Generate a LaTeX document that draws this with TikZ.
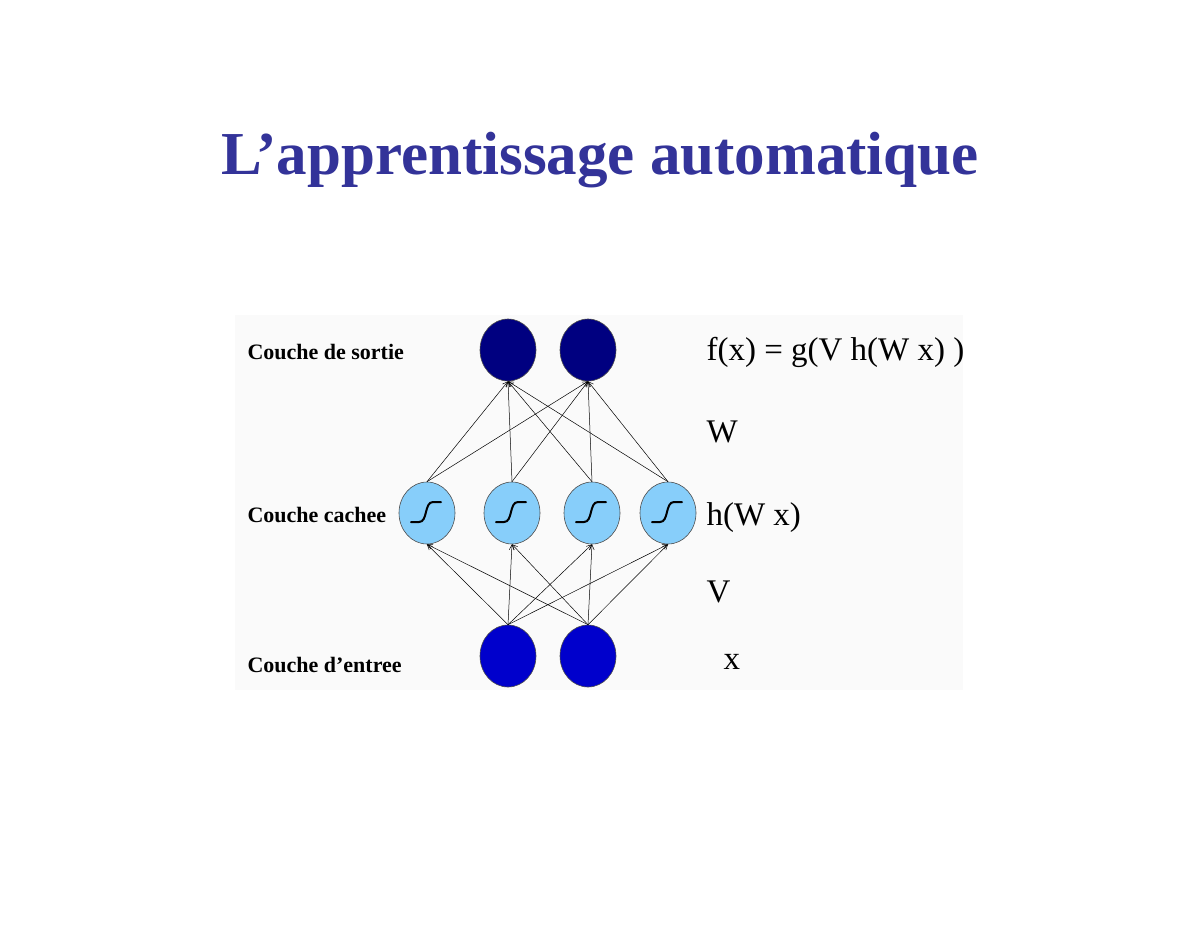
\documentclass[tikz,border=0pt]{standalone}
\usepackage{fontspec}
\setmainfont{Liberation Serif}
\usetikzlibrary{arrows.meta,shapes.geometric}
\definecolor{titlec}{HTML}{333399}
\definecolor{outc}{HTML}{000080}
\definecolor{hidc}{HTML}{87CEFA}
\definecolor{inc}{HTML}{0000CC}
\begin{document}
\begin{tikzpicture}[x=1pt,y=-1pt,
  neuron/.style={ellipse,draw=black!70,line width=0.6pt,minimum width=56pt,minimum height=62pt,inner sep=0},
  outn/.style={neuron,fill=outc},
  hidn/.style={neuron,fill=hidc},
  inn/.style={neuron,fill=inc},
  lab/.style={anchor=west,font=\bfseries\fontsize{22}{26}\selectfont},
  eq/.style={anchor=west,font=\fontsize{33}{38}\selectfont},
  conn/.style={line width=0.5pt,-{Straight Barb[length=5pt,width=5pt]}}]
\useasboundingbox (0,0) rectangle (1200,927);
\fill[white] (0,0) rectangle (1200,927);
\fill[black!2] (235,315) rectangle (963,690);
\node[text=titlec,font=\bfseries\fontsize{61}{66}\selectfont] (title) at (600,160) {L’apprentissage automatique};
\node[outn] (o1) at (508,350) {};
\node[outn] (o2) at (588,350) {};
\foreach \i/\x in {1/427,2/512,3/592,4/668}{
  \node[hidn] (h\i) at (\x,513) {};
  \draw[line width=2pt,line cap=round] (\x-16,522) -- (\x-8,522) .. controls (\x+1,522) and (\x-3,502) .. (\x+6,502) -- (\x+14,502);
}
\node[inn] (i1) at (508,656) {};
\node[inn] (i2) at (588,656) {};
\foreach \o in {1,2}{\foreach \h in {1,2,3,4}{
  \draw[conn] (i\o.north) -- (h\h.south);
  \draw[conn] (h\h.north) -- (o\o.south);
}}
\node[lab] (l1) at (244,352) {Couche de sortie};
\node[lab] (l2) at (244,515) {Couche cachee};
\node[lab] (l3) at (244,665) {Couche d’entree};
\node[eq] (e1) at (703,352) {f(x) = g(V h(W x) )};
\node[eq] (e2) at (703,432) {W};
\node[eq] (e3) at (703,518) {h(W x)};
\node[eq] (e4) at (703,592) {V};
\node[eq] (e5) at (720,662) {x};
\end{tikzpicture}
\end{document}
